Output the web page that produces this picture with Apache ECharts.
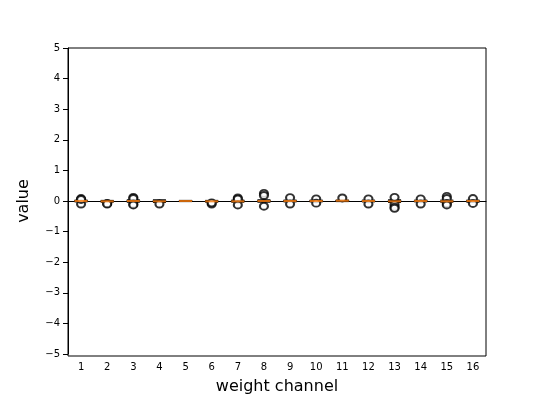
<!DOCTYPE html>
<html><head><meta charset="utf-8">
<script src="https://cdn.jsdelivr.net/npm/echarts@6/dist/echarts.min.js"></script>
</head><body style="margin:0">
<div id="c" style="width:540px;height:400px"></div>
<script>
var channels = ['1','2','3','4','5','6','7','8','9','10','11','12','13','14','15','16'];
// [min, q1, median, q3, max]
var boxes = [
  [-0.03,-0.01,0.0,0.01,0.03],
  [-0.04,-0.02,-0.01,0.0,0.02],
  [-0.04,-0.02,0.0,0.01,0.04],
  [-0.05,-0.02,-0.01,0.01,0.04],
  [-0.02,-0.01,0.0,0.01,0.02],
  [-0.04,-0.02,-0.01,0.0,0.02],
  [-0.04,-0.02,-0.01,0.01,0.03],
  [-0.04,-0.01,0.0,0.01,0.04],
  [-0.03,-0.01,0.0,0.01,0.03],
  [-0.03,-0.01,0.0,0.01,0.03],
  [-0.02,0.0,0.01,0.02,0.03],
  [-0.03,-0.01,0.0,0.01,0.03],
  [-0.05,-0.02,-0.01,0.01,0.04],
  [-0.03,-0.01,0.0,0.01,0.03],
  [-0.04,-0.02,-0.01,0.0,0.03],
  [-0.04,-0.02,0.0,0.01,0.03]
];
// outliers: [channel index, value]
var outliers = [
  [0,0.08],[0,-0.1],[0,0.05],
  [1,-0.08],[1,-0.1],
  [2,0.12],[2,0.08],[2,-0.1],[2,-0.13],
  [3,-0.1],
  [5,-0.1],[5,-0.06],
  [6,0.1],[6,0.06],[6,-0.13],
  [7,0.25],[7,0.18],[7,-0.17],
  [8,0.11],[8,-0.1],
  [9,0.07],[9,-0.07],
  [10,0.1],
  [11,0.07],[11,-0.1],
  [12,0.12],[12,-0.12],[12,-0.2],[12,-0.24],
  [13,0.07],[13,-0.1],
  [14,0.15],[14,0.08],[14,-0.08],[14,-0.13],
  [15,0.08],[15,-0.08]
];
var medians = boxes.map(function (b, i) { return [i, b[2]]; });

var chart = echarts.init(document.getElementById('c'));
chart.setOption({
  backgroundColor: '#fff',
  animation: false,
  grid: { left: 68, right: 54, top: 48, bottom: 44 },
  xAxis: {
    type: 'category', data: channels,
    name: 'weight channel', nameLocation: 'middle', nameGap: 25,
    nameTextStyle: { fontSize: 16, color: '#000', fontFamily: 'DejaVu Sans' },
    axisLine: { lineStyle: { color: '#000' } },
    axisTick: { alignWithLabel: true, lineStyle: { color: '#000' } },
    axisLabel: { color: '#000', fontSize: 10, fontFamily: 'DejaVu Sans' },
    splitLine: { show: false }
  },
  yAxis: {
    type: 'value', min: -5, max: 5, interval: 1,
    name: 'value', nameLocation: 'middle', nameGap: 36,
    nameTextStyle: { fontSize: 16, color: '#000', fontFamily: 'DejaVu Sans' },
    axisLine: { show: true, lineStyle: { color: '#000' } },
    axisTick: { show: true, lineStyle: { color: '#000' } },
    axisLabel: { color: '#000', fontSize: 10, fontFamily: 'DejaVu Sans',
      formatter: function (v) { return v < 0 ? '\u2212' + (-v) : v; } },
    splitLine: { show: false }
  },
  series: [
    {
      type: 'boxplot', data: boxes, boxWidth: [13, 13],
      itemStyle: { color: 'transparent', borderColor: '#000', borderWidth: 1 }
    },
    {
      type: 'scatter', data: outliers, symbol: 'emptyCircle', symbolSize: [8, 7],
      itemStyle: { color: '#000', borderColor: '#000', borderWidth: 1.2 }, z: 3
    },
    {
      type: 'scatter', data: medians, symbol: 'rect', symbolSize: [13, 2],
      itemStyle: { color: '#ff7f0e' }, z: 4
    }
  ]
});
// frame on top/right
chart.setOption({
  graphic: [{ type: 'rect', shape: { x: 68, y: 48, width: 418, height: 308 },
    style: { fill: 'none', stroke: '#000', lineWidth: 1 }, silent: true }]
});
</script>
</body></html>
